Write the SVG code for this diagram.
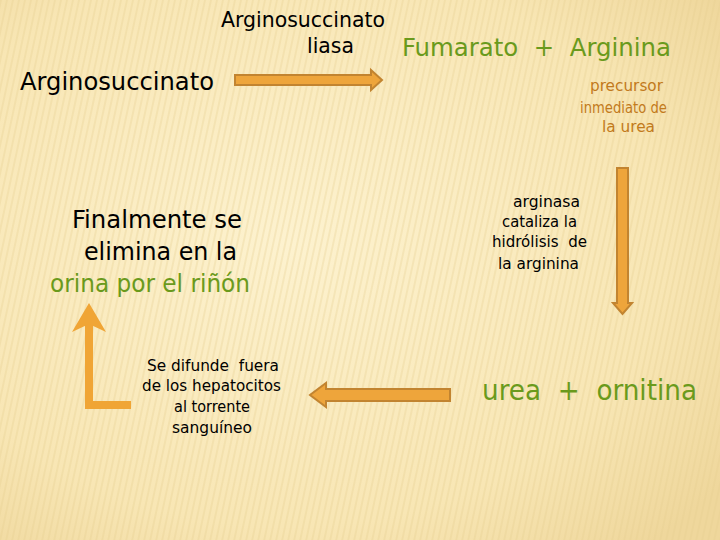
<svg xmlns="http://www.w3.org/2000/svg" width="720" height="540" viewBox="0 0 720 540">
<defs>
<radialGradient id="bg" cx="0.4" cy="0.45" r="0.75">
<stop offset="0" stop-color="#fdf2cf"/>
<stop offset="0.7" stop-color="#f8e6b4"/>
<stop offset="1" stop-color="#efd79c"/>
</radialGradient>
<pattern id="stripes" width="6" height="540" patternUnits="userSpaceOnUse" patternTransform="skewX(-12)">
<rect x="0" y="0" width="2" height="540" fill="#e6cf8e" opacity="0.3"/>
</pattern>
<style>
.t{font-family:"DejaVu Sans Condensed","Liberation Sans",sans-serif;white-space:pre;}
.blk{fill:#000;}
.grn{fill:#6a9a1c;}
.brn{fill:#c27a1c;}
.fat{fill:#eea53b;stroke:#c28430;stroke-width:2;}
.thin{fill:none;stroke:#f0a535;stroke-width:8;}
</style>
</defs>
<rect width="720" height="540" fill="url(#bg)"/>
<rect width="720" height="540" fill="url(#stripes)"/>

<g id="enzyme1">
<text class="t blk" x="221" y="27" font-size="21" textLength="164" lengthAdjust="spacingAndGlyphs">Arginosuccinato</text>
<text class="t blk" x="307" y="53" font-size="21" textLength="47" lengthAdjust="spacingAndGlyphs">liasa</text>
</g>
<g id="substrate">
<text class="t blk" x="20" y="90" font-size="25" textLength="194" lengthAdjust="spacingAndGlyphs">Arginosuccinato</text>
</g>
<g id="products">
<text class="t grn" x="402" y="56" font-size="24" textLength="269" lengthAdjust="spacingAndGlyphs">Fumarato  +  Arginina</text>
</g>
<g id="note-precursor">
<text class="t brn" x="590" y="91" font-size="15" textLength="73" lengthAdjust="spacingAndGlyphs">precursor</text>
<text class="t brn" x="580" y="113" font-size="15" textLength="87" lengthAdjust="spacingAndGlyphs">inmediato de</text>
<text class="t brn" x="602" y="132" font-size="15" textLength="53" lengthAdjust="spacingAndGlyphs">la urea</text>
</g>
<g id="note-arginasa">
<text class="t blk" x="513" y="207" font-size="15" textLength="67" lengthAdjust="spacingAndGlyphs">arginasa</text>
<text class="t blk" x="502" y="227" font-size="15" textLength="75" lengthAdjust="spacingAndGlyphs">cataliza la</text>
<text class="t blk" x="492" y="247" font-size="15" textLength="95" lengthAdjust="spacingAndGlyphs">hidrólisis  de</text>
<text class="t blk" x="498" y="269" font-size="15" textLength="81" lengthAdjust="spacingAndGlyphs">la arginina</text>
</g>
<g id="urea">
<text class="t grn" x="482" y="400" font-size="28" textLength="215" lengthAdjust="spacingAndGlyphs">urea  +  ornitina</text>
</g>
<g id="note-difunde">
<text class="t blk" x="147" y="371" font-size="15" textLength="132" lengthAdjust="spacingAndGlyphs">Se difunde  fuera</text>
<text class="t blk" x="142" y="391" font-size="15" textLength="139" lengthAdjust="spacingAndGlyphs">de los hepatocitos</text>
<text class="t blk" x="174" y="412" font-size="15" textLength="76" lengthAdjust="spacingAndGlyphs">al torrente</text>
<text class="t blk" x="172" y="433" font-size="15" textLength="80" lengthAdjust="spacingAndGlyphs">sanguíneo</text>
</g>
<g id="final">
<text class="t blk" x="72" y="228" font-size="24" textLength="170" lengthAdjust="spacingAndGlyphs">Finalmente se</text>
<text class="t blk" x="84" y="260" font-size="24" textLength="153" lengthAdjust="spacingAndGlyphs">elimina en la</text>
<text class="t grn" x="50" y="292" font-size="24" textLength="200" lengthAdjust="spacingAndGlyphs">orina por el riñón</text>
</g>

<g id="connectors">
<path class="fat" d="M235,75 L371,75 L371,70 L382,80 L371,90 L371,85 L235,85 Z"/>
<path class="fat" d="M617,168 L628,168 L628,303 L632,303 L622.5,314 L613,303 L617,303 Z"/>
<path class="fat" d="M450,389 L326,389 L326,383 L310,395 L326,407 L326,401 L450,401 Z"/>
<path class="thin" d="M131,405 L89,405 L89,318"/>
<path d="M89,303 L106,332 L89,324 L72,332 Z" fill="#f0a535"/>
</g>
</svg>
